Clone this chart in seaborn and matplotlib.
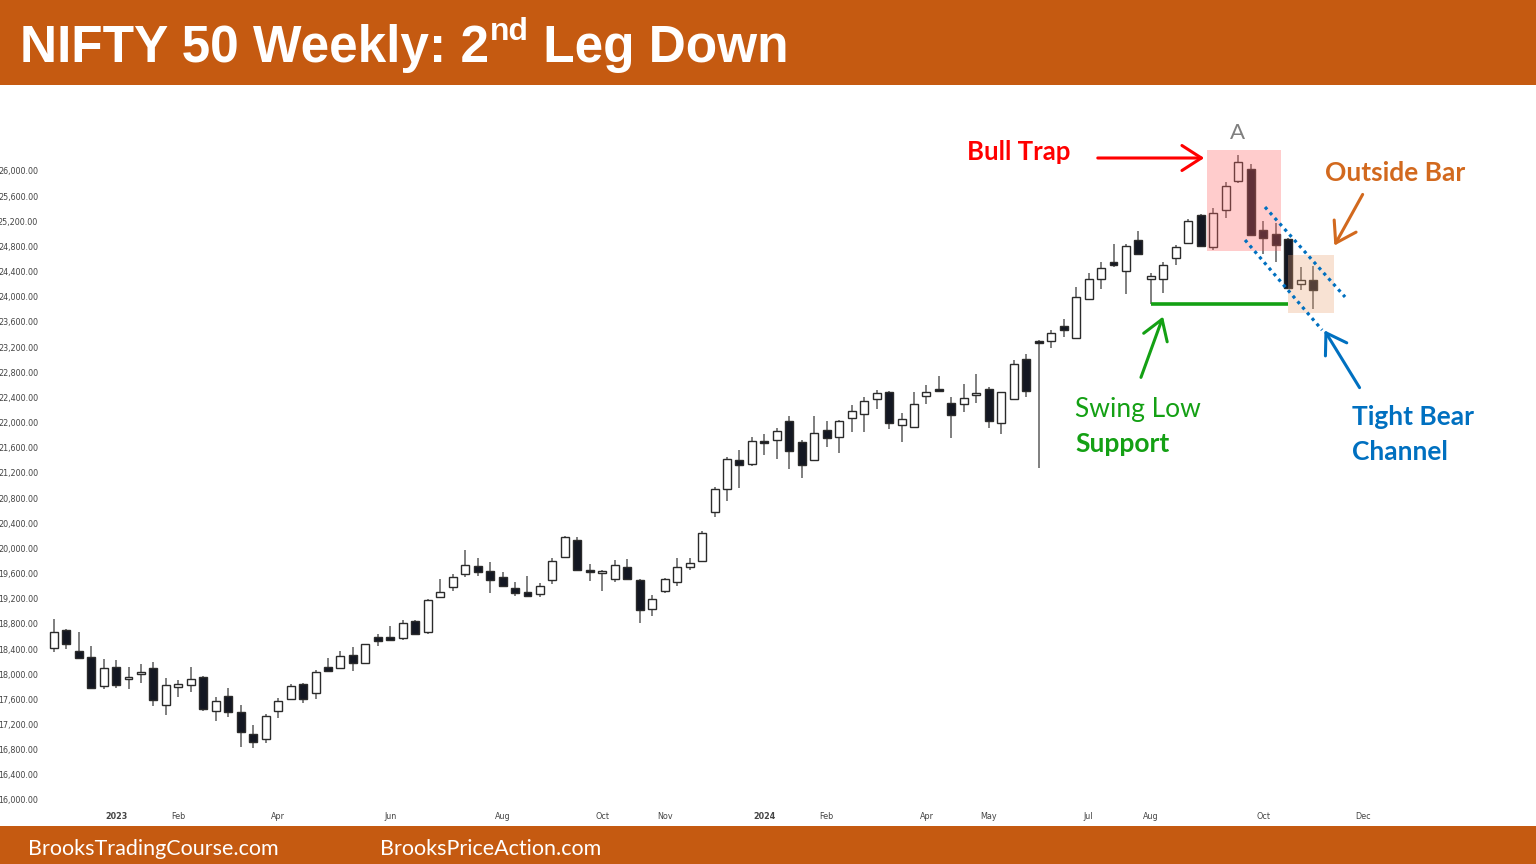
import matplotlib
matplotlib.use("Agg")
import matplotlib.pyplot as plt
import seaborn as sns
import numpy as np
import pandas as pd
from matplotlib.patches import Rectangle

# ---------------- data (weekly candles) ----------------
opens = [18410, 18703, 18374, 18273, 17810, 18118, 17930, 18010, 18098, 17518,
         17800, 17836, 17955, 17410, 17661, 17399, 17049, 16967, 17410, 17613,
         17846, 17700, 18110, 18100, 18313, 18180, 18589, 18589, 18568, 18847,
         18668, 19232, 19390, 19588, 19725, 19645, 19550, 19367, 19302, 19275,
         19498, 19868, 20133, 19657, 19604, 19513, 19709, 19498, 19029, 19323,
         19461, 19709, 19803, 20579, 20944, 21405, 21337, 21707, 21723, 22027,
         21691, 21405, 21884, 21776, 22073, 22144, 22375, 22484, 21954, 21930,
         22430, 22542, 22319, 22303, 22440, 22531, 22001, 22370, 23011, 23302,
         23297, 23536, 23350, 23957, 24290, 24558, 24410, 24900, 24275, 24290,
         24612, 24863, 25300, 24788, 25379, 25834, 26027, 25062, 24993, 24917,
         24211, 24274]
highs = [18873, 18715, 18676, 18456, 18244, 18226, 18122, 18159, 18186, 17947,
         17903, 18114, 17970, 17633, 17776, 17515, 17185, 17367, 17617, 17840,
         17863, 18067, 18253, 18370, 18434, 18485, 18647, 18766, 18854, 18860,
         19190, 19509, 19588, 19975, 19843, 19779, 19620, 19461, 19563, 19443,
         19843, 20199, 20176, 19752, 19660, 19816, 19832, 19513, 19259, 19524,
         19855, 19850, 20277, 20970, 21455, 21572, 21776, 21811, 21909, 22105,
         21723, 22105, 22030, 22041, 22280, 22399, 22518, 22500, 22154, 22489,
         22597, 22742, 22399, 22613, 22772, 22561, 22489, 22995, 23091, 23310,
         23472, 23647, 24151, 24371, 24558, 24832, 24832, 25050, 24385, 24555,
         24824, 25233, 25316, 25405, 25825, 26254, 26111, 25208, 25176, 24930,
         24474, 24485]
lows = [18348, 18396, 18245, 17770, 17770, 17783, 17757, 17855, 17494, 17351,
        17642, 17712, 17415, 17256, 17312, 16843, 16822, 16901, 17305, 17600,
        17547, 17600, 18035, 18090, 18056, 18175, 18450, 18533, 18551, 18630,
        18639, 19220, 19323, 19551, 19561, 19293, 19388, 19243, 19220, 19225,
        19427, 19850, 19642, 19487, 19323, 19471, 19508, 18819, 18925, 19294,
        19402, 19657, 19786, 20494, 20755, 20962, 21315, 21485, 21426, 21264,
        21114, 21394, 21614, 21522, 21855, 21843, 22211, 21891, 21693, 21919,
        22290, 22489, 21757, 22170, 22319, 21908, 21813, 22360, 22399, 21273,
        23190, 23365, 23337, 23944, 24117, 24473, 24052, 24665, 23885, 24068,
        24505, 24847, 24788, 24744, 25258, 25817, 24970, 24680, 24547, 24130,
        24104, 23800]
closes = [18676, 18485, 18250, 17782, 18093, 17836, 17950, 18030, 17590, 17833,
          17840, 17928, 17447, 17574, 17399, 17083, 16925, 17341, 17579, 17814,
          17598, 18042, 18056, 18291, 18180, 18477, 18525, 18540, 18806, 18647,
          19172, 19307, 19540, 19732, 19625, 19498, 19407, 19292, 19243, 19410,
          19800, 20176, 19657, 19630, 19641, 19731, 19513, 19021, 19203, 19508,
          19709, 19770, 20247, 20944, 21423, 21326, 21707, 21680, 21866, 21548,
          21326, 21831, 21760, 22025, 22186, 22345, 22463, 21996, 22065, 22303,
          22489, 22510, 22117, 22392, 22470, 22025, 22480, 22928, 22502, 23261,
          23426, 23472, 23989, 24290, 24461, 24505, 24810, 24688, 24330, 24513,
          24793, 25205, 24807, 25325, 25758, 26136, 24982, 24930, 24823, 24144,
          24274, 24104]

month_labels = ["2023", "Feb", "Apr", "Jun", "Aug", "Oct", "Nov",
                "2024", "Feb", "Apr", "May", "Jul", "Aug", "Oct", "Dec"]
month_pos = [5, 10, 18, 27, 36, 44, 49, 57, 62, 70, 75, 83, 88, 97, 105]
y_ticks = list(range(16000, 26001, 400))

title_main = "NIFTY 50 Weekly: 2"
title_sup = "nd"
title_rest = " Leg Down"
footer_left = "BrooksTradingCourse.com"
footer_right = "BrooksPriceAction.com"

# ---------------- styling ----------------
sns.set_theme(style="white")
plt.rcParams["font.family"] = ["DejaVu Sans"]

W, H = 1536, 864
def fx(x):
    return x / W
def fy(y):
    return 1 - y / H

BRAND = "#C55A11"
RED = "#FF0000"
ORANGE = "#D2691E"
GREEN = "#14A014"
BLUE = "#0070C0"
ANN_FONT = ["Lato", "DejaVu Sans"]

df = pd.DataFrame({"open": opens, "high": highs, "low": lows, "close": closes})
df["idx"] = np.arange(len(df))
df["up"] = df["close"] >= df["open"]
df["bottom"] = df[["open", "close"]].min(axis=1)
df["height"] = (df["close"] - df["open"]).abs().clip(lower=18)

fig = plt.figure(figsize=(W / 100, H / 100), dpi=100)
fig.patch.set_facecolor("white")

# header & footer bars
fig.add_artist(Rectangle((0, fy(85)), 1, 85 / H, transform=fig.transFigure,
                         facecolor=BRAND, edgecolor="none", zorder=0))
fig.add_artist(Rectangle((0, 0), 1, (H - 826) / H, transform=fig.transFigure,
                         facecolor=BRAND, edgecolor="none", zorder=0))

ax = fig.add_axes([fx(45), fy(808), fx(1390 - 45), (808 - 110) / H])
ax.set_facecolor("white")

# wicks
ax.vlines(df["idx"], df["low"], df["high"], color="#5c5c5c", linewidth=1.1, zorder=2)
# bodies
body_colors = np.where(df["up"], "white", "#131722")
ax.bar(df["idx"], df["height"], bottom=df["bottom"], width=0.64,
       color=body_colors, edgecolor="#2b2b2b", linewidth=1.0, zorder=3)

px_per_idx = 12.468
x0_idx = -(53.7 - 45) / px_per_idx
x1_idx = 101 + (1390 - 1313) / px_per_idx
ax.set_xlim(x0_idx, x1_idx)
ax.set_ylim(16000 - 8 * 15.898, 16000 + 690 * 15.898)

ax.set_yticks(y_ticks)
ax.set_yticklabels([f"{v:,.2f}" for v in y_ticks], fontsize=5.8, color="#444444")
ax.set_xticks(month_pos)
ax.set_xticklabels(month_labels, fontsize=5.8, color="#444444")
for lab in ax.get_xticklabels():
    if lab.get_text() in ("2023", "2024"):
        lab.set_fontweight("bold")
ax.tick_params(axis="both", length=0)
ax.tick_params(axis="y", pad=5)
ax.tick_params(axis="x", pad=3)
for s in ax.spines.values():
    s.set_visible(False)
ax.grid(False)

# pink "bull trap" box and tan "outside bar" box
ax.add_patch(Rectangle((92.48, 24728), 98.44 - 92.48, 26334 - 24728,
                       facecolor="#FF6666", alpha=0.33, edgecolor="none", zorder=5))
ax.add_patch(Rectangle((99.0, 23742), 102.69 - 99.0, 24664 - 23742,
                       facecolor="#EBA070", alpha=0.30, edgecolor="none", zorder=5))

# swing-low support line
swing_i = 88
ax.plot([swing_i, 99], [lows[swing_i], lows[swing_i]], color=GREEN,
        linewidth=2.6, solid_capstyle="butt", zorder=6)

# tight bear channel lines
for (xa, ya, xb, yb) in [(97.15, 25427, 103.57, 23997), (95.55, 24903, 101.73, 23472)]:
    ax.plot([xa, xb], [ya, yb], color=BLUE, linewidth=2.3,
            linestyle=(0, (1, 1.3)), dash_capstyle="butt", zorder=6)

# ---------------- texts ----------------
fig.canvas.draw()
renderer = fig.canvas.get_renderer()

TFS = 37
base = fy(62)
t1 = fig.text(fx(20), base, title_main, fontsize=TFS, fontweight="bold", color="white",
              family=["Liberation Sans", "DejaVu Sans"], va="baseline", ha="left")
bb1 = t1.get_window_extent(renderer)
t2 = fig.text(bb1.x1 / W + fx(1), fy(40), title_sup, fontsize=TFS * 0.62, fontweight="bold",
              color="white", family=["Liberation Sans", "DejaVu Sans"], va="baseline", ha="left")
bb2 = t2.get_window_extent(renderer)
fig.text(bb2.x1 / W, base, title_rest, fontsize=TFS, fontweight="bold", color="white",
         family=["Liberation Sans", "DejaVu Sans"], va="baseline", ha="left")

fig.text(fx(28), fy(855), footer_left, fontsize=15.5, color="white", family=ANN_FONT,
         va="baseline", ha="left")
fig.text(fx(380), fy(855), footer_right, fontsize=15.5, color="white", family=ANN_FONT,
         va="baseline", ha="left")

fig.text(fx(1238), fy(139), "A", fontsize=16, color="#7f7f7f", family=ANN_FONT,
         va="baseline", ha="center")
fig.text(fx(1019), fy(160), "Bull Trap", fontsize=18.5, fontweight="bold", color=RED,
         family=ANN_FONT, va="baseline", ha="center")
fig.text(fx(1395), fy(181), "Outside Bar", fontsize=19, fontweight="bold", color=ORANGE,
         family=ANN_FONT, va="baseline", ha="center")
fig.text(fx(1075), fy(417), "Swing Low", fontsize=19, color=GREEN,
         family=ANN_FONT, va="baseline", ha="left")
fig.text(fx(1075), fy(452), "Support", fontsize=19, fontweight="bold", color=GREEN,
         family=ANN_FONT, va="baseline", ha="left")
fig.text(fx(1352), fy(425), "Tight Bear", fontsize=19, fontweight="bold", color=BLUE,
         family=ANN_FONT, va="baseline", ha="left")
fig.text(fx(1352), fy(460), "Channel", fontsize=19, fontweight="bold", color=BLUE,
         family=ANN_FONT, va="baseline", ha="left")

# arrows
def arrow(x_from, y_from, x_to, y_to, color):
    fig.add_artist(matplotlib.patches.FancyArrowPatch(
        (fx(x_from), fy(y_from)), (fx(x_to), fy(y_to)), transform=fig.transFigure,
        arrowstyle="->,head_length=0.7,head_width=0.45", mutation_scale=20,
        color=color, linewidth=2.2, zorder=10))

arrow(1095, 158, 1207, 158, RED)
arrow(1364, 192, 1333, 248, ORANGE)
arrow(1140, 380, 1164, 314, GREEN)
arrow(1361, 390, 1323, 328, BLUE)

fig.savefig("out.png", dpi=100, facecolor="white")
